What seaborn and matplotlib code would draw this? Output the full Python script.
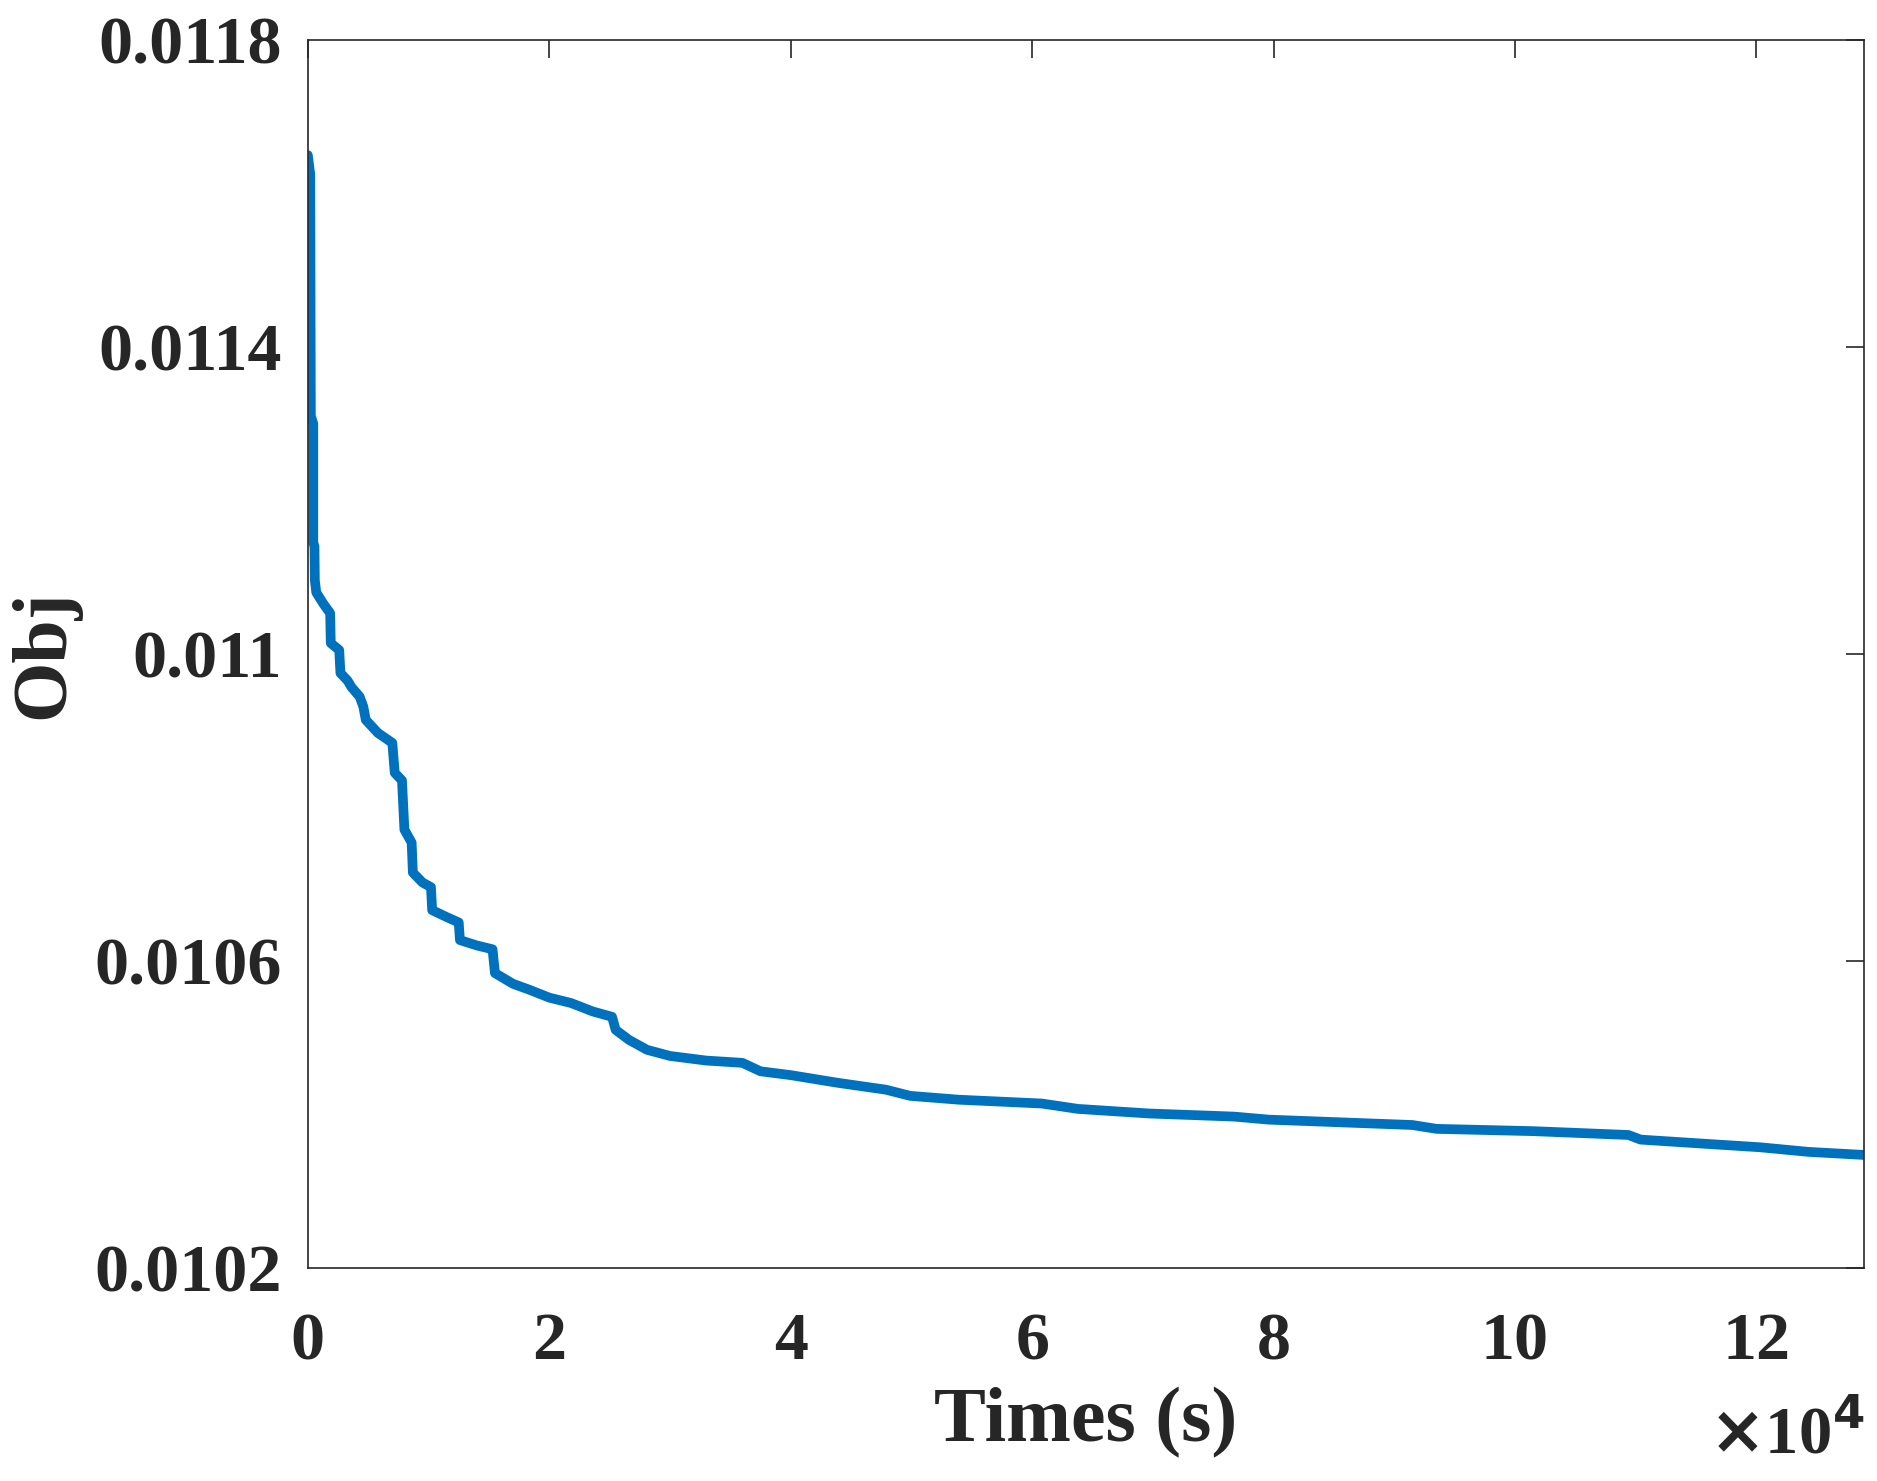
import numpy as np
import pandas as pd
import seaborn as sns
import matplotlib.pyplot as plt
from matplotlib.ticker import FuncFormatter

# Temps (s) et valeur de l'objectif
temps = [0, 200, 250, 450, 450, 550, 580, 700, 1300, 1850, 1900, 2600, 2700,
         3300, 3600, 4300, 4600, 4800, 5800, 7000, 7200, 7800, 8000, 8600,
         8700, 9500, 10200, 10300, 11500, 12500, 12600, 14000, 15300, 15500,
         17000, 18400, 20000, 21800, 23600, 25200, 25500, 26600, 28100, 30000,
         33000, 36000, 37500, 40000, 43900, 47900, 49900, 53900, 60800, 63800,
         69700, 76700, 79600, 91500, 93500, 101500, 109400, 110400, 115300,
         120300, 124300, 128900]
objectif = [0.011650, 0.011625, 0.011310, 0.011300, 0.011145, 0.011140,
            0.011096, 0.011080, 0.011065, 0.011053, 0.011014, 0.011005,
            0.010975, 0.010965, 0.010957, 0.010944, 0.010931, 0.010914,
            0.010897, 0.010884, 0.010845, 0.010835, 0.010771, 0.010754,
            0.010715, 0.010702, 0.010696, 0.010666, 0.010657, 0.010650,
            0.010627, 0.010620, 0.010615, 0.010584, 0.010570, 0.010562,
            0.010552, 0.010545, 0.010534, 0.010527, 0.010510, 0.010497,
            0.010484, 0.010476, 0.010470, 0.010467, 0.010456, 0.010451,
            0.010441, 0.010432, 0.010424, 0.010419, 0.010414, 0.010407,
            0.010401, 0.010397, 0.010393, 0.010386, 0.010381, 0.010378,
            0.010373, 0.010367, 0.010362, 0.010357, 0.010351, 0.010347]

yticks = [0.0102, 0.0106, 0.011, 0.0114, 0.0118]
ytick_labels = ["0.0102", "0.0106", "0.011", "0.0114", "0.0118"]
xticks = [0, 20000, 40000, 60000, 80000, 100000, 120000]

sns.set_style("white")
plt.rcParams['font.family'] = ['Liberation Serif', 'DejaVu Serif']
plt.rcParams['font.weight'] = 'bold'

couleur_texte = "#262626"
df = pd.DataFrame({"Times": temps, "Obj": objectif})

fig = plt.figure(figsize=(18.77, 14.81), dpi=100)
ax = fig.add_axes([0.164, 0.144, 0.829, 0.829])

sns.lineplot(data=df, x="Times", y="Obj", ax=ax, color="#0072BD",
             linewidth=7, estimator=None, sort=False)

ax.set_xlim(0, 128900)
ax.set_ylim(0.0102, 0.0118)
ax.set_xticks(xticks)
ax.xaxis.set_major_formatter(FuncFormatter(lambda v, p: f"{v / 1e4:g}"))
ax.set_yticks(yticks)
ax.set_yticklabels(ytick_labels)

ax.tick_params(axis="both", which="both", direction="in", length=13, width=1.2,
               colors=couleur_texte, labelsize=49, top=True, right=True)
ax.tick_params(axis="x", pad=32)
ax.tick_params(axis="y", pad=19)
for lab in ax.get_xticklabels() + ax.get_yticklabels():
    lab.set_fontweight("bold")

for s in ax.spines.values():
    s.set_visible(True)
    s.set_color(couleur_texte)
    s.set_linewidth(1.2)

ax.set_xlabel("Times (s)", fontsize=56, fontweight="bold", color=couleur_texte, labelpad=10)
ax.set_ylabel("Obj", fontsize=56, fontweight="bold", color=couleur_texte, labelpad=10)

# facteur d'échelle de l'axe des x
ax.text(1.0, -0.11, r"$\times$10$^{4}$", transform=ax.transAxes, ha="right", va="top",
        fontsize=48, fontweight="bold", color=couleur_texte)

fig.savefig("out.png", dpi=100)
